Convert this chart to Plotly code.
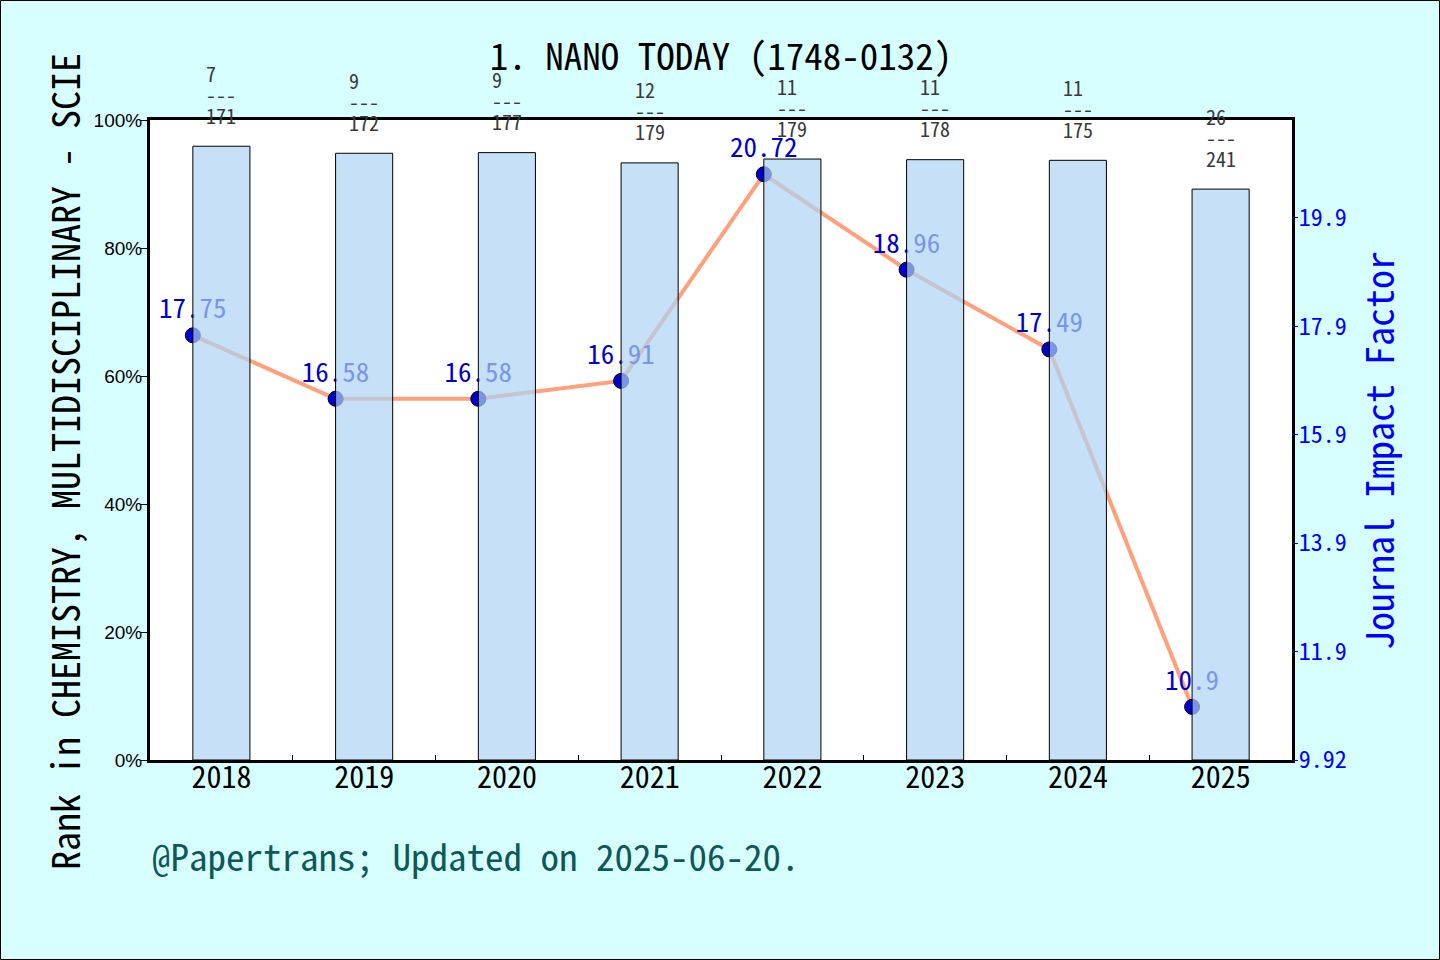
import plotly.graph_objects as go

years = ["2018", "2019", "2020", "2021", "2022", "2023", "2024", "2025"]
impact_factor = [17.75, 16.58, 16.58, 16.91, 20.72, 18.96, 17.49, 10.9]
rank_pct = [95.9, 94.8, 94.9, 93.3, 93.9, 93.8, 93.7, 89.2]
rank_pos = [7, 9, 9, 12, 11, 11, 11, 26]
rank_total = [171, 172, 177, 179, 179, 178, 175, 241]
if_ticks = [9.92, 11.92, 13.92, 15.92, 17.92, 19.92]
if_tick_text = ["9.92", "11.9", "13.9", "15.9", "17.9", "19.9"]
pct_ticks = [0, 20, 40, 60, 80, 100]
pct_tick_text = ["0%", "20%", "40%", "60%", "80%", "100%"]

MONO = "Noto Sans Mono CJK SC, Noto Sans Mono CJK JP, DejaVu Sans Mono, monospace"
SANS = "Liberation Sans, Arial, sans-serif"

W, H = 1440, 960
ML, MR, MT, MB = 150, 148, 120, 200
PW, PH = W - ML - MR, H - MT - MB

fig = go.Figure()

fig.add_trace(go.Scatter(
    x=years, y=impact_factor, xaxis="x", yaxis="y",
    mode="lines+markers+text",
    text=[f"{v:g}" for v in impact_factor],
    textposition="top center",
    textfont=dict(family=MONO, size=27, color="#0000CD"),
    line=dict(color="#FFA07A", width=4),
    marker=dict(color="#0000CD", size=15, line=dict(color="black", width=1)),
    cliponaxis=False, showlegend=False,
))

fig.add_trace(go.Bar(
    x=years, y=rank_pct, xaxis="x2", yaxis="y2",
    width=0.4,
    marker=dict(color="rgba(172,211,244,0.7)", line=dict(color="black", width=1)),
    showlegend=False,
))

annotations = []
for i, (p, r, t) in enumerate(zip(rank_pct, rank_pos, rank_total)):
    for txt, shift in ((str(r), 73), ("---", 52), (str(t), 31)):
        annotations.append(dict(
            x=i, y=p, xref="x2", yref="y2", text=txt, showarrow=False,
            xanchor="left", yanchor="middle", xshift=-17, yshift=shift,
            font=dict(family=MONO, size=20, color="#3a3a3a"),
        ))

annotations.append(dict(
    x=(63 - ML) / PW, y=(760 - 462) / PH, xref="paper", yref="paper",
    text="Rank in CHEMISTRY, MULTIDISCIPLINARY - SCIE", textangle=-90,
    showarrow=False, xanchor="center", yanchor="middle",
    font=dict(family=MONO, size=38, color="black"),
))
annotations.append(dict(
    x=(1377 - ML) / PW, y=(760 - 451) / PH, xref="paper", yref="paper",
    text="Journal Impact Factor", textangle=-90,
    showarrow=False, xanchor="center", yanchor="middle",
    font=dict(family=MONO, size=38, color="#0000FF"),
))
annotations.append(dict(
    x=0, y=(760 - 855) / PH, xref="paper", yref="paper",
    text="@Papertrans; Updated on 2025-06-20.",
    showarrow=False, xanchor="left", yanchor="middle",
    font=dict(family=MONO, size=37, color="#0E5858"),
))

fig.update_layout(
    width=W, height=H, autosize=False,
    margin=dict(l=ML, r=MR, t=MT, b=MB, pad=0),
    paper_bgcolor="#D8FFFF", plot_bgcolor="white",
    title=dict(text="1. NANO TODAY (1748-0132)", x=721 / W, xanchor="center",
               y=1 - 57 / H, yanchor="middle", yref="container",
               font=dict(family=MONO, size=37, color="black")),
    xaxis=dict(type="category", range=[-0.3, 7.7], visible=False,
               showgrid=False, zeroline=False),
    xaxis2=dict(type="category", overlaying="x", side="bottom", range=[-0.5, 7.5],
                tickson="boundaries", ticks="inside", ticklen=5, tickwidth=1,
                tickcolor="black", showline=True, linewidth=3, linecolor="black",
                mirror=True, showgrid=False, zeroline=False, ticklabelstandoff=-11,
                tickfont=dict(family=MONO, size=30, color="black")),
    yaxis=dict(side="right", range=[9.92, 21.72], tickvals=if_ticks, ticktext=if_tick_text,
               ticks="outside", ticklen=5, tickwidth=1, tickcolor="#0000FF",
               showgrid=False, zeroline=False, showline=False, ticklabelstandoff=-4,
               tickfont=dict(family=MONO, size=24, color="#0000FF")),
    yaxis2=dict(overlaying="y", side="left", range=[0, 100], tickvals=pct_ticks,
                ticktext=pct_tick_text, ticks="outside", ticklen=6, tickwidth=1,
                tickcolor="black", showline=True, linewidth=3, linecolor="black",
                mirror=True, showgrid=False, zeroline=False, ticklabelstandoff=-5,
                tickfont=dict(family=SANS, size=19, color="black")),
    annotations=annotations,
    shapes=[dict(type="rect", xref="paper", yref="paper",
                 x0=(0.5 - ML) / PW, x1=(W - 0.5 - ML) / PW,
                 y0=(760 - (H - 0.5)) / PH, y1=(760 - 0.5) / PH,
                 line=dict(color="black", width=1), fillcolor="rgba(0,0,0,0)")],
)

fig.write_html("out.html")
